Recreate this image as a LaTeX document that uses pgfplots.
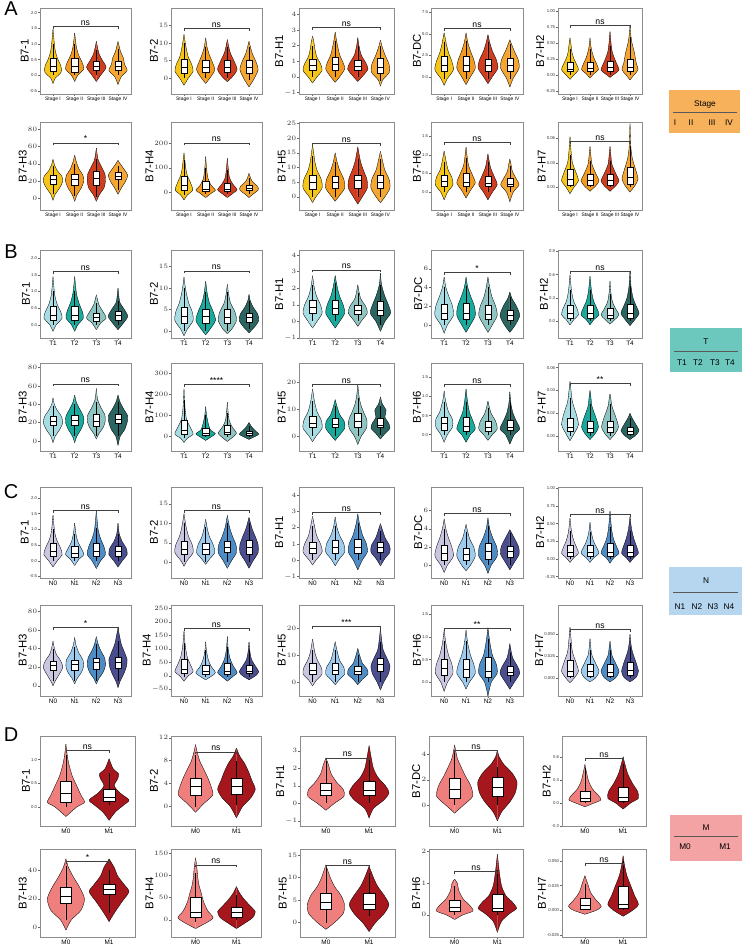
\documentclass[border=0pt]{standalone}
\usepackage{pgfplots}
\pgfplotsset{compat=1.18}
\usepgfplotslibrary{statistics}
\usepackage{fontspec}
\setmainfont{Liberation Sans}

\newlength\pu \setlength\pu{0.75pt}

\definecolor{sI}{HTML}{F5C518}
\definecolor{sII}{HTML}{F29B1F}
\definecolor{sIII}{HTML}{CF3E1E}
\definecolor{sIV}{HTML}{F4A632}
\definecolor{tA}{HTML}{A8DCE3}
\definecolor{tB}{HTML}{1AA99D}
\definecolor{tC}{HTML}{8EC5C2}
\definecolor{tD}{HTML}{2B6562}
\definecolor{nA}{HTML}{C9C6E2}
\definecolor{nB}{HTML}{9CCBEE}
\definecolor{nC}{HTML}{4E8CC5}
\definecolor{nD}{HTML}{4B4E8E}
\definecolor{mA}{HTML}{EF7F7C}
\definecolor{mB}{HTML}{A5161D}
\definecolor{legA}{HTML}{F6B15A}
\definecolor{legB}{HTML}{6CC8BD}
\definecolor{legC}{HTML}{B6D6EF}
\definecolor{legD}{HTML}{F3A3A4}

\pgfplotsset{
  vp/.style={scale only axis, anchor=north west, clip=false,
    xmin=0.4, xmax=4.6, xtick={1,2,3,4}, scaled ticks=false,
    axis line style={black!45, line width=0.6pt},
    tick align=outside, tick pos=left, major tick length=1.3pt,
    major tick style={black!60, line width=0.3pt},
    yticklabel style={font=\fontsize{3.2}{3.6}\selectfont, inner sep=0.7pt, text=black!80},
    xticklabel style={font=\fontsize{4.8}{5.2}\selectfont, inner sep=1pt},
    ylabel style={font=\fontsize{8.5}{9}\selectfont, inner sep=1pt},
    ylabel shift=-1pt},
  stA/.style={vp, xticklabels={Stage I,Stage II,Stage III,Stage IV},
    xticklabel style={font=\fontsize{3.7}{4}\selectfont}},
  stB/.style={vp, xticklabels={T1,T2,T3,T4}},
  stC/.style={vp, xticklabels={N0,N1,N2,N3}},
  stD/.style={vp, xmin=0.4, xmax=2.6, xtick={1,2}, xticklabels={M0,M1}},
  pos/.style n args={4}{at={(#1\pu,#2\pu)}, width=#3\pu, height=#4\pu},
}

\newcommand\bx{0.28}
% violin: x, colour, profile (y halfwidth), lower whisker, q1, median, q3, upper whisker
\newcommand\vio[8]{%
  \addplot[fill=#2, draw=black, line width=0.25pt, smooth, tension=0.45] table[header=false, row sep=\\, x expr=#1+\thisrowno{1}, y index=0] {#3};
  \addplot[fill=#2, draw=black, line width=0.25pt, smooth, tension=0.45] table[header=false, row sep=\\, x expr=#1-\thisrowno{1}, y index=0] {#3};
  \addplot[draw=black, fill=white, line width=0.3pt, boxplot prepared={draw direction=y, draw position=#1, lower whisker=#4, lower quartile=#5, median=#6, upper quartile=#7, upper whisker=#8, box extend=\bx, whisker extend=0}] coordinates {};
}
% bracket: x1, x2, xmid, y, label
\newcommand\brk[5]{%
  \draw[black!75, line width=0.5pt] ([yshift=-1.8pt]axis cs:#1,#4) -- (axis cs:#1,#4) -- (axis cs:#2,#4) -- ([yshift=-1.8pt]axis cs:#2,#4);
  \node[font=\fontsize{6.5}{7}\selectfont, anchor=south, inner sep=0.6pt] at (axis cs:#3,#4) {#5};
}

\begin{document}
\begin{tikzpicture}
\path[use as bounding box] (0,0) rectangle (744\pu,948\pu);

%%%%%%%%%%%%%%%% Panel A, row 1
\begin{axis}[stA, pos={40}{940}{91}{86}, ymin=-0.6, ymax=2.15, ytick={-0.5,0,0.5,1,1.5,2}, yticklabels={-0.5,0.0,0.5,1.0,1.5,2.0}, ylabel={B7-1}]
\vio{1}{sI}{-0.27 0\\-0.1 0.1\\0.1 0.38\\0.3 0.36\\0.55 0.2\\0.8 0.1\\1.1 0.05\\1.47 0\\}{0}{0.12}{0.28}{0.55}{1.0}
\vio{2}{sII}{-0.2 0\\0 0.15\\0.2 0.42\\0.4 0.35\\0.65 0.18\\0.9 0.08\\1.35 0\\}{0}{0.1}{0.3}{0.55}{1.0}
\vio{3}{sIII}{-0.2 0\\0 0.2\\0.25 0.45\\0.45 0.3\\0.7 0.12\\1.08 0\\}{0}{0.15}{0.28}{0.45}{0.8}
\vio{4}{sIV}{-0.3 0\\-0.05 0.15\\0.15 0.42\\0.35 0.3\\0.55 0.25\\0.75 0.12\\1.08 0\\}{0}{0.15}{0.3}{0.45}{0.85}
\brk{1}{4}{2.5}{1.55}{ns}
\end{axis}
\begin{axis}[stA, pos={171}{940}{91}{86}, ymin=-4.5, ymax=20, ytick={0,5,10,15}, ylabel={B7-2}]
\vio{1}{sI}{-2 0\\0 0.2\\2 0.42\\4 0.35\\6 0.2\\8 0.12\\10 0.06\\12.5 0\\}{0}{1.5}{3.2}{5.5}{10}
\vio{2}{sII}{-1.5 0\\0.5 0.25\\2.5 0.42\\5 0.28\\7 0.15\\9 0.06\\11.5 0\\}{0}{1.8}{3}{5}{9}
\vio{3}{sIII}{-1 0\\0.5 0.25\\2.5 0.45\\5 0.3\\7.5 0.12\\11 0\\}{0}{1.8}{3.2}{5}{9}
\vio{4}{sIV}{-2.5 0\\0 0.25\\2.5 0.42\\5 0.3\\7 0.15\\10.5 0\\}{-0.5}{1.5}{3}{5}{9}
\brk{1}{4}{2.5}{14.2}{ns}
\end{axis}
\begin{axis}[stA, pos={299}{940}{95}{86}, ymin=-1.1, ymax=4.4, ytick={-1,0,1,2,3,4}, ylabel={B7-H1}]
\vio{1}{sI}{-0.4 0\\0 0.2\\0.4 0.42\\0.8 0.36\\1.3 0.18\\1.8 0.1\\2.2 0.06\\2.6 0\\}{0}{0.45}{0.72}{1.1}{2}
\vio{2}{sII}{-0.35 0\\0 0.2\\0.5 0.42\\0.9 0.35\\1.4 0.2\\2 0.1\\2.4 0.05\\2.85 0\\}{0}{0.45}{0.8}{1.25}{2.3}
\vio{3}{sIII}{-0.3 0\\0.1 0.25\\0.5 0.45\\0.9 0.35\\1.4 0.15\\2 0.05\\2.5 0\\}{0}{0.45}{0.7}{1.05}{2}
\vio{4}{sIV}{-0.6 0\\-0.2 0.1\\0.3 0.4\\0.8 0.38\\1.4 0.2\\1.9 0.08\\2.35 0\\}{-0.3}{0.25}{0.6}{1.2}{2}
\brk{1}{4}{2.5}{3.14}{ns}
\end{axis}
\begin{axis}[stA, pos={431}{940}{92}{86}, ymin=-2, ymax=8, ytick={0,2.5,5,7.5}, yticklabels={0.0,2.5,5.0,7.5}, ylabel={B7-DC}]
\vio{1}{sI}{-1 0\\-0.2 0.15\\0.8 0.42\\1.8 0.35\\2.8 0.2\\3.8 0.1\\4.5 0.05\\5.1 0\\}{-0.3}{0.6}{1.3}{2.4}{4}
\vio{2}{sII}{-0.9 0\\0 0.2\\1 0.42\\2 0.35\\3 0.2\\4 0.08\\5.1 0\\}{-0.3}{0.6}{1.3}{2.4}{4.2}
\vio{3}{sIII}{-0.8 0\\0 0.2\\1 0.45\\2 0.38\\3 0.2\\4 0.08\\4.9 0\\}{-0.2}{0.7}{1.3}{2.0}{4}
\vio{4}{sIV}{-1.2 0\\-0.2 0.15\\1 0.42\\2 0.38\\3 0.2\\4.3 0\\}{-0.3}{0.7}{1.4}{2.2}{3.8}
\brk{1}{4}{2.5}{5.6}{ns}
\end{axis}
\begin{axis}[stA, pos={558}{940}{84}{86}, ymin=-0.3, ymax=1.05, ytick={-0.25,0,0.25,0.5,0.75,1}, yticklabels={-0.25,0.00,0.25,0.50,0.75,1.00}, ylabel={B7-H2}]
\vio{1}{sI}{-0.07 0\\0 0.2\\0.08 0.42\\0.15 0.35\\0.25 0.2\\0.35 0.1\\0.5 0.04\\0.58 0\\}{0}{0.05}{0.09}{0.2}{0.4}
\vio{2}{sII}{-0.05 0\\0.02 0.2\\0.08 0.42\\0.15 0.36\\0.28 0.18\\0.42 0.06\\0.58 0\\}{0}{0.05}{0.1}{0.2}{0.4}
\vio{3}{sIII}{-0.04 0\\0.02 0.25\\0.08 0.45\\0.2 0.3\\0.35 0.12\\0.5 0.05\\0.68 0\\}{0}{0.05}{0.12}{0.22}{0.45}
\vio{4}{sIV}{-0.08 0\\0 0.2\\0.08 0.4\\0.2 0.3\\0.35 0.22\\0.5 0.1\\0.65 0.03\\0.78 0\\}{0}{0.05}{0.12}{0.25}{0.6}
\brk{1}{4}{2.5}{0.77}{ns}
\end{axis}

%%%%%%%%%%%%%%%% Panel A, row 2
\begin{axis}[stA, pos={40}{826}{91}{88}, ymin=-13, ymax=88, ytick={0,20,40,60,80}, ylabel={B7-H3}]
\vio{1}{sI}{-2 0\\5 0.1\\12 0.3\\20 0.45\\26 0.4\\32 0.2\\38 0.08\\45 0\\}{5}{17}{22}{27}{38}
\vio{2}{sII}{-3 0\\5 0.12\\12 0.3\\20 0.42\\27 0.38\\34 0.2\\42 0.08\\50 0\\}{3}{16}{22}{28}{40}
\vio{3}{sIII}{-3 0\\5 0.15\\12 0.35\\20 0.42\\28 0.4\\36 0.25\\45 0.08\\58 0\\}{2}{15}{23}{31}{45}
\vio{4}{sIV}{5 0\\12 0.15\\20 0.35\\27 0.45\\33 0.3\\40 0.1\\44 0\\}{10}{22}{26}{30}{38}
\brk{1}{4}{2.5}{64}{*}
\end{axis}
\begin{axis}[stA, pos={171}{826}{91}{88}, ymin=-70, ymax=285, ytick={0,100,200}, ylabel={B7-H4}]
\vio{1}{sI}{-30 0\\-10 0.15\\10 0.4\\40 0.3\\70 0.15\\100 0.08\\130 0.04\\160 0\\}{-10}{10}{30}{65}{130}
\vio{2}{sII}{-20 0\\0 0.3\\10 0.45\\30 0.25\\60 0.1\\100 0.04\\145 0\\}{-5}{5}{15}{45}{100}
\vio{3}{sIII}{-20 0\\0 0.3\\12 0.45\\35 0.25\\60 0.1\\100 0.04\\138 0\\}{-5}{5}{15}{40}{90}
\vio{4}{sIV}{-20 0\\-5 0.2\\10 0.42\\25 0.4\\45 0.15\\65 0.05\\78 0\\}{-5}{8}{18}{30}{60}
\brk{1}{4}{2.5}{200}{ns}
\end{axis}
\begin{axis}[stA, pos={299}{826}{95}{88}, ymin=-4.5, ymax=25.5, ytick={0,5,10,15,20,25}, ylabel={B7-H5}]
\vio{1}{sI}{-2 0\\0 0.15\\3 0.42\\6 0.38\\9 0.2\\12 0.1\\15 0.05\\17.5 0\\}{0}{2.5}{5}{7.5}{14}
\vio{2}{sII}{-1.5 0\\0.5 0.2\\3 0.42\\6 0.38\\9 0.2\\12 0.08\\15 0\\}{0}{3}{5}{7}{12}
\vio{3}{sIII}{-2.5 0\\0 0.2\\3 0.42\\6 0.4\\9 0.25\\12 0.12\\17 0\\}{0}{3}{5.5}{7.5}{13}
\vio{4}{sIV}{-2 0\\0 0.2\\3 0.42\\6 0.38\\9 0.2\\12 0.1\\15.5 0\\}{0}{3}{5}{7.5}{13}
\brk{1}{4}{2.5}{18.2}{ns}
\end{axis}
\begin{axis}[stA, pos={431}{826}{92}{88}, ymin=-0.47, ymax=1.87, ytick={0,0.5,1,1.5}, yticklabels={0.0,0.5,1.0,1.5}, ylabel={B7-H6}]
\vio{1}{sI}{-0.2 0\\0 0.15\\0.2 0.4\\0.4 0.35\\0.6 0.18\\0.85 0.08\\1.1 0\\}{0}{0.15}{0.3}{0.45}{0.8}
\vio{2}{sII}{-0.15 0\\0.05 0.2\\0.25 0.42\\0.45 0.3\\0.7 0.12\\0.95 0.05\\1.2 0\\}{0}{0.15}{0.28}{0.5}{0.9}
\vio{3}{sIII}{-0.2 0\\0 0.2\\0.2 0.42\\0.4 0.3\\0.65 0.12\\0.85 0.05\\1.02 0\\}{0}{0.15}{0.25}{0.42}{0.8}
\vio{4}{sIV}{-0.25 0\\0 0.15\\0.2 0.42\\0.35 0.3\\0.55 0.12\\0.75 0.05\\0.88 0\\}{0}{0.15}{0.22}{0.38}{0.7}
\brk{1}{4}{2.5}{1.33}{ns}
\end{axis}
\begin{axis}[stA, pos={558}{826}{84}{88}, ymin=-0.028, ymax=0.08, ytick={0,0.03,0.06}, yticklabels={0.00,0.03,0.06}, ylabel={B7-H7}]
\vio{1}{sI}{-0.008 0\\0 0.2\\0.008 0.42\\0.018 0.3\\0.03 0.12\\0.045 0.05\\0.062 0\\}{0}{0.003}{0.01}{0.022}{0.04}
\vio{2}{sII}{-0.005 0\\0.002 0.3\\0.008 0.45\\0.016 0.3\\0.028 0.1\\0.04 0.04\\0.05 0\\}{0}{0.003}{0.008}{0.016}{0.032}
\vio{3}{sIII}{-0.005 0\\0.002 0.3\\0.008 0.45\\0.016 0.3\\0.028 0.1\\0.04 0.04\\0.05 0\\}{0}{0.003}{0.008}{0.016}{0.032}
\vio{4}{sIV}{-0.006 0\\0.002 0.25\\0.01 0.4\\0.02 0.3\\0.035 0.12\\0.05 0.04\\0.078 0\\}{0}{0.004}{0.012}{0.025}{0.05}
\brk{1}{4}{2.5}{0.056}{ns}
\end{axis}

%%%%%%%%%%%%%%%% Panel B, row 1
\begin{axis}[stB, pos={40}{698}{91}{88}, ymin=-0.4, ymax=2.25, ytick={0,0.5,1,1.5,2}, yticklabels={0.0,0.5,1.0,1.5,2.0}, ylabel={B7-1}]
\vio{1}{tA}{-0.2 0\\0 0.15\\0.2 0.42\\0.4 0.35\\0.6 0.2\\0.9 0.08\\1.45 0\\}{0}{0.15}{0.3}{0.55}{1.0}
\vio{2}{tB}{-0.2 0\\0 0.15\\0.2 0.4\\0.4 0.35\\0.65 0.2\\0.95 0.08\\1.45 0\\}{0}{0.15}{0.3}{0.55}{1.0}
\vio{3}{tC}{-0.15 0\\0.05 0.2\\0.2 0.45\\0.4 0.3\\0.6 0.12\\0.9 0\\}{0}{0.12}{0.22}{0.35}{0.65}
\vio{4}{tD}{-0.15 0\\0.05 0.25\\0.25 0.45\\0.45 0.3\\0.65 0.1\\0.8 0.05\\1.1 0\\}{0}{0.15}{0.28}{0.4}{0.7}
\brk{1}{4}{2.5}{1.6}{ns}
\end{axis}
\begin{axis}[stB, pos={171}{698}{91}{88}, ymin=-1.5, ymax=18.7, ytick={0,5,10,15}, ylabel={B7-2}]
\vio{1}{tA}{-1 0\\0.5 0.15\\2.5 0.42\\4.5 0.38\\6.5 0.22\\8.5 0.12\\10.5 0.05\\12.5 0\\}{0}{2}{3.5}{5.5}{10}
\vio{2}{tB}{-0.8 0\\0.5 0.2\\2.5 0.45\\4.5 0.35\\6.5 0.18\\8.5 0.08\\11.5 0\\}{0}{2}{3.5}{5}{9}
\vio{3}{tC}{-0.5 0\\0.5 0.2\\2.5 0.42\\4.5 0.35\\6.5 0.15\\8.5 0.06\\10.8 0\\}{0}{2}{3.3}{5.2}{9}
\vio{4}{tD}{-0.3 0\\1 0.25\\2.5 0.45\\4 0.4\\5.5 0.2\\7 0.06\\8.5 0\\}{0.5}{2.2}{3.2}{4.2}{7}
\brk{1}{4}{2.5}{13.9}{ns}
\end{axis}
\begin{axis}[stB, pos={299}{698}{95}{88}, ymin=-1.0, ymax=4.3, ytick={-1,0,1,2,3,4}, ylabel={B7-H1}]
\vio{1}{tA}{-0.4 0\\0 0.2\\0.5 0.42\\1 0.35\\1.5 0.18\\2 0.08\\2.75 0\\}{0}{0.5}{0.85}{1.25}{2.2}
\vio{2}{tB}{-0.4 0\\0 0.2\\0.5 0.42\\1 0.35\\1.5 0.2\\2 0.1\\2.75 0\\}{0}{0.45}{0.8}{1.3}{2.3}
\vio{3}{tC}{-0.3 0\\0.1 0.2\\0.5 0.42\\0.9 0.35\\1.4 0.12\\2.2 0\\}{0}{0.45}{0.7}{1.0}{1.7}
\vio{4}{tD}{-0.6 0\\0 0.2\\0.5 0.45\\1 0.35\\1.5 0.2\\2.2 0.05\\2.9 0\\}{-0.2}{0.4}{0.7}{1.2}{2.2}
\brk{1}{4}{2.5}{3.1}{ns}
\end{axis}
\begin{axis}[stB, pos={431}{698}{92}{88}, ymin=-1.4, ymax=8, ytick={0,2,4,6}, ylabel={B7-DC}]
\vio{1}{tA}{-0.9 0\\0 0.15\\1 0.42\\2 0.38\\3 0.22\\4 0.08\\5.1 0\\}{0}{0.6}{1.3}{2.2}{4}
\vio{2}{tB}{-0.8 0\\0 0.2\\1 0.42\\2 0.38\\3 0.22\\4 0.08\\5.1 0\\}{0}{0.6}{1.3}{2.3}{4.2}
\vio{3}{tC}{-0.8 0\\0 0.2\\1 0.42\\2 0.35\\3 0.18\\4 0.08\\5.1 0\\}{0}{0.6}{1.1}{2.1}{4}
\vio{4}{tD}{-0.8 0\\0 0.25\\1 0.45\\2 0.3\\2.8 0.1\\3.5 0\\}{0}{0.5}{1.0}{1.6}{3}
\brk{1}{4}{2.5}{5.6}{*}
\end{axis}
\begin{axis}[stB, pos={558}{698}{84}{88}, ymin=-0.22, ymax=0.92, ytick={0,0.3,0.6,0.9}, yticklabels={0.0,0.3,0.6,0.9}, ylabel={B7-H2}]
\vio{1}{tA}{-0.05 0\\0.02 0.2\\0.08 0.42\\0.16 0.35\\0.26 0.18\\0.38 0.08\\0.6 0\\}{0}{0.04}{0.1}{0.2}{0.4}
\vio{2}{tB}{-0.05 0\\0.02 0.2\\0.08 0.45\\0.16 0.35\\0.26 0.18\\0.38 0.08\\0.58 0\\}{0}{0.04}{0.1}{0.2}{0.4}
\vio{3}{tC}{-0.04 0\\0.02 0.25\\0.08 0.45\\0.15 0.3\\0.25 0.12\\0.38 0.04\\0.52 0\\}{0}{0.04}{0.08}{0.16}{0.35}
\vio{4}{tD}{-0.06 0\\0.02 0.25\\0.1 0.45\\0.2 0.3\\0.3 0.15\\0.45 0.05\\0.65 0\\}{0}{0.04}{0.1}{0.22}{0.45}
\brk{1}{4}{2.5}{0.64}{ns}
\end{axis}

%%%%%%%%%%%%%%%% Panel B, row 2
\begin{axis}[stB, pos={40}{585}{91}{88}, ymin=-11, ymax=85, ytick={0,20,40,60,80}, ylabel={B7-H3}]
\vio{1}{tA}{-2 0\\5 0.1\\12 0.3\\20 0.45\\27 0.38\\34 0.18\\40 0.06\\47 0\\}{5}{17}{22}{27}{38}
\vio{2}{tB}{-2 0\\5 0.1\\12 0.28\\20 0.42\\27 0.4\\34 0.25\\42 0.08\\50 0\\}{5}{17}{23}{28}{40}
\vio{3}{tC}{2 0\\8 0.12\\14 0.3\\20 0.4\\28 0.4\\36 0.22\\45 0.06\\57 0\\}{5}{16}{22}{29}{42}
\vio{4}{tD}{-5 0\\5 0.1\\12 0.3\\20 0.42\\27 0.45\\34 0.28\\42 0.1\\50 0\\}{5}{19}{24}{29}{42}
\brk{1}{4}{2.5}{62}{ns}
\end{axis}
\begin{axis}[stB, pos={171}{585}{91}{88}, ymin=-70, ymax=347, ytick={0,100,200,300}, ylabel={B7-H4}]
\vio{1}{tA}{-30 0\\-10 0.15\\10 0.42\\40 0.3\\80 0.12\\130 0.05\\180 0.02\\225 0\\}{-10}{10}{30}{75}{170}
\vio{2}{tB}{-20 0\\0 0.3\\12 0.45\\30 0.22\\60 0.12\\100 0.04\\140 0\\}{-5}{5}{15}{40}{100}
\vio{3}{tC}{-25 0\\0 0.3\\15 0.42\\40 0.25\\70 0.1\\110 0.04\\160 0\\}{-5}{8}{20}{50}{110}
\vio{4}{tD}{-15 0\\0 0.3\\10 0.45\\25 0.3\\45 0.12\\65 0\\}{-5}{3}{12}{22}{50}
\brk{1}{4}{2.5}{245}{****}
\end{axis}
\begin{axis}[stB, pos={299}{585}{95}{88}, ymin=-5.4, ymax=27, ytick={0,10,20}, ylabel={B7-H5}]
\vio{1}{tA}{-2 0\\0 0.15\\3 0.42\\6 0.38\\9 0.2\\13 0.08\\17.5 0\\}{0}{3.5}{5}{7.5}{13}
\vio{2}{tB}{-1.5 0\\0.5 0.2\\3 0.42\\5.5 0.4\\8 0.2\\11 0.08\\13.5 0\\}{0}{3.5}{4.5}{6.5}{11}
\vio{3}{tC}{-3 0\\0 0.15\\3 0.38\\6 0.4\\9 0.25\\12 0.12\\15 0.05\\19 0\\}{0}{3.5}{5.5}{8.5}{14}
\vio{4}{tD}{-1 0\\1 0.2\\3 0.42\\5 0.35\\7 0.2\\9.5 0.25\\12 0.08\\14.5 0\\}{0.5}{3.5}{4.2}{6.5}{11}
\brk{1}{4}{2.5}{19.2}{ns}
\end{axis}
\begin{axis}[stB, pos={431}{585}{92}{88}, ymin=-0.43, ymax=1.88, ytick={0,0.5,1,1.5}, yticklabels={0.0,0.5,1.0,1.5}, ylabel={B7-H6}]
\vio{1}{tA}{-0.2 0\\0 0.15\\0.2 0.38\\0.4 0.38\\0.6 0.2\\0.9 0.06\\1.15 0\\}{0}{0.12}{0.3}{0.45}{0.85}
\vio{2}{tB}{-0.2 0\\0 0.2\\0.15 0.42\\0.35 0.32\\0.6 0.15\\0.9 0.06\\1.2 0\\}{0}{0.1}{0.22}{0.45}{0.85}
\vio{3}{tC}{-0.15 0\\0 0.2\\0.15 0.42\\0.35 0.35\\0.55 0.15\\0.75 0.05\\0.88 0\\}{0}{0.1}{0.2}{0.35}{0.7}
\vio{4}{tD}{-0.25 0\\0 0.2\\0.15 0.45\\0.35 0.3\\0.55 0.15\\0.8 0.05\\1.12 0\\}{0}{0.12}{0.2}{0.38}{0.85}
\brk{1}{4}{2.5}{1.32}{ns}
\end{axis}
\begin{axis}[stB, pos={558}{585}{84}{88}, ymin=-0.013, ymax=0.064, ytick={0,0.02,0.04,0.06}, yticklabels={0.00,0.02,0.04,0.06}, ylabel={B7-H7}]
\vio{1}{tA}{-0.004 0\\0.002 0.2\\0.01 0.42\\0.02 0.3\\0.03 0.12\\0.04 0.05\\0.048 0\\}{0}{0.004}{0.008}{0.016}{0.033}
\vio{2}{tB}{-0.003 0\\0.002 0.25\\0.008 0.42\\0.016 0.3\\0.026 0.1\\0.035 0.04\\0.04 0\\}{0}{0.003}{0.007}{0.013}{0.028}
\vio{3}{tC}{-0.003 0\\0.002 0.25\\0.008 0.42\\0.016 0.3\\0.026 0.1\\0.033 0.04\\0.037 0\\}{0}{0.003}{0.008}{0.013}{0.028}
\vio{4}{tD}{-0.003 0\\0.001 0.3\\0.005 0.45\\0.01 0.3\\0.016 0.1\\0.02 0\\}{0}{0.002}{0.004}{0.008}{0.016}
\brk{1}{4}{2.5}{0.046}{**}
\end{axis}

%%%%%%%%%%%%%%%% Panel C, row 1
\begin{axis}[stC, pos={40}{461}{91}{91}, ymin=-0.55, ymax=2.35, ytick={-0.5,0,0.5,1,1.5,2}, yticklabels={-0.5,0.0,0.5,1.0,1.5,2.0}, ylabel={B7-1}]
\vio{1}{nA}{-0.2 0\\0 0.2\\0.2 0.42\\0.4 0.35\\0.65 0.18\\0.9 0.08\\1.45 0\\}{0}{0.15}{0.3}{0.55}{1.0}
\vio{2}{nB}{-0.15 0\\0.05 0.2\\0.2 0.42\\0.4 0.3\\0.6 0.15\\0.85 0.06\\1.2 0\\}{0}{0.12}{0.25}{0.45}{0.85}
\vio{3}{nC}{-0.25 0\\0 0.2\\0.2 0.42\\0.45 0.35\\0.7 0.2\\1.0 0.08\\1.6 0\\}{0}{0.15}{0.3}{0.55}{1.05}
\vio{4}{nD}{-0.2 0\\0 0.2\\0.2 0.42\\0.4 0.38\\0.6 0.2\\0.85 0.06\\1.2 0\\}{0}{0.15}{0.3}{0.45}{0.85}
\brk{1}{4}{2.5}{1.6}{ns}
\end{axis}
\begin{axis}[stC, pos={171}{461}{91}{91}, ymin=-4, ymax=19.3, ytick={0,5,10,15}, ylabel={B7-2}]
\vio{1}{nA}{-1 0\\0.5 0.15\\2.5 0.42\\4.5 0.38\\6.5 0.22\\9 0.1\\12.5 0\\}{0}{2}{3.5}{5.5}{10}
\vio{2}{nB}{-0.5 0\\1 0.2\\2.5 0.42\\4.5 0.35\\6.5 0.18\\8.5 0.08\\11 0\\}{0}{2.2}{3.5}{5}{9}
\vio{3}{nC}{-1.5 0\\0.5 0.2\\2.5 0.42\\4.5 0.4\\6.5 0.25\\9 0.1\\12 0\\}{0}{2.5}{4}{5.5}{10}
\vio{4}{nD}{-1.5 0\\0.5 0.2\\2.5 0.42\\4.5 0.42\\6.5 0.3\\8.5 0.15\\11.5 0\\}{0}{2.2}{3.8}{5.8}{10}
\brk{1}{4}{2.5}{13.2}{ns}
\end{axis}
\begin{axis}[stC, pos={299}{461}{95}{91}, ymin=-1.1, ymax=4.5, ytick={-1,0,1,2,3,4}, ylabel={B7-H1}]
\vio{1}{nA}{-0.3 0\\0 0.15\\0.5 0.42\\1 0.35\\1.5 0.18\\2 0.1\\2.7 0\\}{0}{0.45}{0.75}{1.1}{2.1}
\vio{2}{nB}{-0.35 0\\0.1 0.2\\0.5 0.42\\1 0.38\\1.5 0.2\\2 0.08\\2.65 0\\}{0}{0.4}{0.8}{1.2}{2.1}
\vio{3}{nC}{-0.6 0\\0 0.2\\0.5 0.42\\1 0.38\\1.5 0.22\\2.2 0.08\\2.85 0\\}{0}{0.4}{0.8}{1.3}{2.3}
\vio{4}{nD}{-0.35 0\\0.1 0.2\\0.5 0.42\\0.9 0.4\\1.4 0.2\\2.25 0\\}{0}{0.5}{0.8}{1.1}{1.8}
\brk{1}{4}{2.5}{2.95}{ns}
\end{axis}
\begin{axis}[stC, pos={431}{461}{92}{91}, ymin=-1.4, ymax=8.6, ytick={0,2,4,6}, ylabel={B7-DC}]
\vio{1}{nA}{-0.8 0\\0 0.15\\1 0.42\\2 0.35\\3 0.2\\4 0.08\\5.1 0\\}{0}{0.6}{1.3}{2.2}{4}
\vio{2}{nB}{-0.6 0\\0 0.2\\1 0.42\\2 0.35\\3 0.15\\4.5 0\\}{0}{0.6}{1.2}{1.9}{3.7}
\vio{3}{nC}{-0.9 0\\0 0.15\\1 0.42\\2 0.4\\3 0.22\\4 0.08\\5.2 0\\}{0}{0.7}{1.5}{2.4}{4.3}
\vio{4}{nD}{-0.5 0\\0.3 0.2\\1.2 0.42\\2 0.4\\3 0.2\\3.9 0\\}{0}{0.9}{1.5}{2.1}{3.5}
\brk{1}{4}{2.5}{5.7}{ns}
\end{axis}
\begin{axis}[stC, pos={558}{461}{84}{91}, ymin=-0.27, ymax=1.02, ytick={-0.25,0,0.25,0.5,0.75,1}, yticklabels={-0.25,0.00,0.25,0.50,0.75,1.00}, ylabel={B7-H2}]
\vio{1}{nA}{-0.05 0\\0.02 0.2\\0.08 0.42\\0.15 0.35\\0.25 0.2\\0.38 0.08\\0.58 0\\}{0}{0.04}{0.1}{0.2}{0.4}
\vio{2}{nB}{-0.05 0\\0.02 0.2\\0.08 0.45\\0.15 0.35\\0.25 0.18\\0.38 0.06\\0.52 0\\}{0}{0.04}{0.1}{0.2}{0.38}
\vio{3}{nC}{-0.06 0\\0.02 0.2\\0.08 0.45\\0.16 0.35\\0.28 0.18\\0.42 0.08\\0.68 0\\}{0}{0.04}{0.09}{0.22}{0.45}
\vio{4}{nD}{-0.05 0\\0.02 0.2\\0.08 0.42\\0.16 0.35\\0.28 0.2\\0.42 0.08\\0.6 0\\}{0}{0.04}{0.1}{0.2}{0.4}
\brk{1}{4}{2.5}{0.63}{ns}
\end{axis}

%%%%%%%%%%%%%%%% Panel C, row 2
\begin{axis}[stC, pos={40}{343}{91}{91}, ymin=-11, ymax=87, ytick={0,20,40,60,80}, ylabel={B7-H3}]
\vio{1}{nA}{0 0\\5 0.1\\12 0.28\\20 0.45\\27 0.35\\34 0.15\\42 0.05\\48 0\\}{5}{17}{22}{27}{40}
\vio{2}{nB}{2 0\\8 0.12\\14 0.3\\20 0.4\\28 0.38\\35 0.2\\44 0.06\\52 0\\}{5}{17}{23}{28}{42}
\vio{3}{nC}{2 0\\8 0.12\\14 0.3\\22 0.42\\30 0.38\\38 0.2\\45 0.08\\53 0\\}{5}{18}{25}{30}{45}
\vio{4}{nD}{-2 0\\5 0.1\\12 0.25\\20 0.38\\28 0.42\\36 0.3\\45 0.15\\55 0.06\\62 0\\}{5}{19}{25}{31}{48}
\brk{1}{4}{2.5}{63}{*}
\end{axis}
\begin{axis}[stC, pos={171}{343}{91}{91}, ymin=-75, ymax=262, ytick={-50,0,50,100,150,200,250}, ylabel={B7-H4}]
\vio{1}{nA}{-20 0\\0 0.2\\15 0.42\\40 0.3\\70 0.15\\110 0.06\\165 0\\}{-5}{8}{25}{60}{120}
\vio{2}{nB}{-15 0\\0 0.3\\12 0.45\\35 0.25\\60 0.12\\90 0.04\\125 0\\}{-5}{5}{15}{40}{95}
\vio{3}{nC}{-20 0\\0 0.3\\12 0.45\\35 0.28\\65 0.12\\100 0.04\\145 0\\}{-5}{5}{18}{45}{105}
\vio{4}{nD}{-15 0\\0 0.3\\15 0.45\\35 0.3\\60 0.12\\90 0.04\\125 0\\}{-5}{8}{18}{40}{95}
\brk{1}{4}{2.5}{175}{ns}
\end{axis}
\begin{axis}[stC, pos={299}{343}{95}{91}, ymin=-5.2, ymax=28.7, ytick={0,10,20}, ylabel={B7-H5}]
\vio{1}{nA}{-1.5 0\\0.5 0.15\\3 0.42\\5.5 0.38\\8 0.22\\11 0.1\\16 0\\}{0}{3}{4.5}{7}{12}
\vio{2}{nB}{-1 0\\1 0.2\\3 0.42\\5.5 0.38\\8 0.2\\11 0.1\\15 0\\}{0}{3}{4.5}{7}{12}
\vio{3}{nC}{-1 0\\1 0.2\\3 0.45\\5 0.4\\7 0.2\\10 0.08\\12.5 0\\}{0}{3}{4.2}{6}{10}
\vio{4}{nD}{-3 0\\0 0.15\\3 0.35\\6 0.42\\9 0.28\\12 0.12\\16 0.05\\20 0\\}{0}{4}{6.5}{9}{15}
\brk{1}{4}{2.5}{20.7}{***}
\end{axis}
\begin{axis}[stC, pos={431}{343}{92}{91}, ymin=-0.3, ymax=1.7, ytick={0,0.5,1,1.5}, yticklabels={0.0,0.5,1.0,1.5}, ylabel={B7-H6}]
\vio{1}{nA}{-0.2 0\\0 0.15\\0.2 0.4\\0.4 0.35\\0.6 0.2\\0.85 0.08\\1.15 0\\}{0}{0.15}{0.3}{0.5}{0.9}
\vio{2}{nB}{-0.15 0\\0 0.15\\0.2 0.42\\0.4 0.35\\0.6 0.2\\0.85 0.08\\1.15 0\\}{0}{0.12}{0.28}{0.5}{0.9}
\vio{3}{nC}{-0.3 0\\0 0.15\\0.2 0.42\\0.4 0.38\\0.6 0.2\\0.9 0.08\\1.2 0\\}{0}{0.12}{0.25}{0.55}{0.95}
\vio{4}{nD}{-0.15 0\\0 0.2\\0.2 0.45\\0.35 0.35\\0.55 0.12\\0.85 0\\}{0}{0.15}{0.22}{0.35}{0.65}
\brk{1}{4}{2.5}{1.18}{**}
\end{axis}
\begin{axis}[stC, pos={558}{343}{84}{91}, ymin=-0.02, ymax=0.083, ytick={0,0.025,0.05}, yticklabels={0.000,0.025,0.050}, ylabel={B7-H7}]
\vio{1}{nA}{-0.005 0\\0 0.2\\0.008 0.42\\0.018 0.3\\0.03 0.12\\0.045 0.05\\0.058 0\\}{0}{0.002}{0.008}{0.02}{0.04}
\vio{2}{nB}{-0.004 0\\0.001 0.3\\0.008 0.45\\0.016 0.3\\0.026 0.1\\0.035 0.04\\0.045 0\\}{0}{0.002}{0.008}{0.016}{0.032}
\vio{3}{nC}{-0.004 0\\0.001 0.3\\0.008 0.45\\0.016 0.3\\0.026 0.1\\0.035 0.04\\0.042 0\\}{0}{0.002}{0.007}{0.016}{0.032}
\vio{4}{nD}{-0.004 0\\0.001 0.3\\0.008 0.42\\0.018 0.3\\0.03 0.12\\0.04 0.04\\0.05 0\\}{0}{0.003}{0.009}{0.018}{0.036}
\brk{1}{4}{2.5}{0.055}{ns}
\end{axis}

%%%%%%%%%%%%%%%% Panel D, row 1
\renewcommand\bx{0.26}
\begin{axis}[stD, pos={40}{212}{95}{90}, ymin=-0.4, ymax=1.5, ytick={0,0.5,1}, yticklabels={0.0,0.5,1.0}, ylabel={B7-1}]
\vio{1}{mA}{-0.2 0\\0 0.25\\0.1 0.43\\0.25 0.35\\0.45 0.25\\0.65 0.15\\0.9 0.07\\1.1 0.03\\1.33 0\\}{0}{0.1}{0.3}{0.55}{1.1}
\vio{2}{mB}{-0.28 0\\-0.1 0.15\\0.05 0.35\\0.15 0.46\\0.3 0.25\\0.45 0.12\\0.6 0.2\\0.7 0.22\\0.8 0.1\\0.9 0.05\\1.02 0\\}{0.05}{0.12}{0.2}{0.37}{0.72}
\brk{1}{2}{1.5}{1.19}{ns}
\end{axis}
\begin{axis}[stD, pos={171}{212}{90}{90}, ymin=-3.4, ymax=12.3, ytick={0,4,8,12}, ylabel={B7-2}]
\vio{1}{mA}{-1 0\\0.5 0.2\\2 0.42\\3.5 0.38\\5 0.3\\6.5 0.2\\8 0.1\\9.5 0.04\\10.8 0\\}{0}{2}{3.5}{5}{9}
\vio{2}{mB}{-2 0\\0 0.15\\1.5 0.35\\3 0.46\\4.5 0.38\\6 0.3\\7.5 0.2\\8.8 0.08\\10.2 0\\}{0.3}{2.2}{3.5}{4.9}{8}
\brk{1}{2}{1.5}{9.5}{ns}
\end{axis}
\begin{axis}[stD, pos={300}{212}{95}{90}, ymin=-1.3, ymax=3.85, ytick={-1,0,1,2,3}, ylabel={B7-H1}]
\vio{1}{mA}{-0.4 0\\0 0.2\\0.4 0.42\\0.8 0.4\\1.2 0.25\\1.7 0.12\\2.2 0.06\\2.6 0\\}{0}{0.45}{0.72}{1.15}{2.4}
\vio{2}{mB}{-0.85 0\\-0.3 0.1\\0.2 0.35\\0.6 0.46\\1.0 0.38\\1.5 0.2\\2.0 0.1\\2.6 0.05\\3.3 0\\}{0}{0.45}{0.72}{1.25}{2.5}
\brk{1}{2}{1.5}{2.6}{ns}
\end{axis}
\begin{axis}[stD, pos={429}{212}{94}{90}, ymin=-1.6, ymax=5.4, ytick={0,2,4}, ylabel={B7-DC}]
\vio{1}{mA}{-0.6 0\\0 0.2\\0.7 0.42\\1.5 0.38\\2.3 0.25\\3 0.15\\3.7 0.06\\4.7 0\\}{0}{0.6}{1.3}{2.1}{4.3}
\vio{2}{mB}{-1.2 0\\-0.5 0.1\\0.3 0.3\\1 0.42\\1.8 0.46\\2.5 0.35\\3.2 0.15\\3.8 0.04\\4.3 0\\}{0}{0.7}{1.4}{2.2}{3}
\brk{1}{2}{1.5}{4.25}{ns}
\end{axis}
\begin{axis}[stD, pos={562}{212}{84}{90}, ymin=-0.3, ymax=0.87, ytick={-0.3,0,0.3,0.6}, yticklabels={-0.3,0.0,0.3,0.6}, ylabel={B7-H2}]
\vio{1}{mA}{-0.05 0\\0 0.25\\0.04 0.42\\0.1 0.35\\0.18 0.2\\0.28 0.1\\0.4 0.04\\0.5 0\\}{0}{0.02}{0.06}{0.15}{0.45}
\vio{2}{mB}{-0.08 0\\0 0.2\\0.06 0.4\\0.15 0.38\\0.25 0.25\\0.38 0.12\\0.5 0.05\\0.6 0\\}{0}{0.02}{0.08}{0.2}{0.5}
\brk{1}{2}{1.5}{0.58}{ns}
\end{axis}

%%%%%%%%%%%%%%%% Panel D, row 2
\begin{axis}[stD, pos={40}{99}{95}{88}, ymin=-6.8, ymax=55, ytick={0,20,40}, ylabel={B7-H3}]
\vio{1}{mA}{-2 0\\5 0.12\\12 0.35\\20 0.43\\28 0.32\\35 0.18\\42 0.06\\48 0\\}{5}{17}{22}{28}{43}
\vio{2}{mB}{4 0\\10 0.12\\18 0.3\\25 0.46\\30 0.35\\36 0.2\\42 0.12\\48 0\\}{10}{23}{26.5}{30}{40}
\brk{1}{2}{1.5}{46}{*}
\end{axis}
\begin{axis}[stD, pos={171}{99}{90}{88}, ymin=-39, ymax=160, ytick={0,50,100,150}, ylabel={B7-H4}]
\vio{1}{mA}{-20 0\\-5 0.3\\5 0.43\\20 0.3\\40 0.2\\60 0.14\\80 0.08\\100 0.05\\120 0.03\\140 0\\}{-5}{5}{18}{50}{105}
\vio{2}{mB}{-20 0\\-5 0.25\\5 0.4\\18 0.46\\30 0.35\\45 0.2\\60 0.08\\75 0\\}{0}{5}{18}{28}{55}
\brk{1}{2}{1.5}{124}{ns}
\end{axis}
\begin{axis}[stD, pos={300}{99}{95}{88}, ymin=-3.2, ymax=16.3, ytick={0,5,10,15}, ylabel={B7-H5}]
\vio{1}{mA}{-1.5 0\\0 0.2\\2 0.4\\4 0.43\\6 0.35\\8 0.2\\10 0.1\\12.8 0\\}{0}{3}{4.5}{6.5}{12.5}
\vio{2}{mB}{-2 0\\0 0.15\\2 0.35\\4 0.46\\6 0.35\\8 0.2\\10 0.1\\12.5 0\\}{1.5}{3}{4}{6.5}{11}
\brk{1}{2}{1.5}{12.7}{ns}
\end{axis}
\begin{axis}[stD, pos={429}{99}{94}{88}, ymin=-0.7, ymax=2.07, ytick={0,1,2}, ylabel={B7-H6}]
\vio{1}{mA}{-0.15 0\\0 0.2\\0.12 0.43\\0.3 0.35\\0.5 0.2\\0.75 0.1\\1.0 0.06\\1.12 0\\}{0}{0.12}{0.25}{0.45}{0.9}
\vio{2}{mB}{-0.55 0\\-0.2 0.1\\0.05 0.3\\0.2 0.45\\0.4 0.35\\0.6 0.2\\0.9 0.1\\1.3 0.05\\1.9 0\\}{0}{0.12}{0.2}{0.65}{1.4}
\brk{1}{2}{1.5}{1.37}{ns}
\end{axis}
\begin{axis}[stD, pos={562}{99}{84}{88}, ymin=-0.027, ymax=0.062, ytick={-0.025,0,0.025,0.05}, yticklabels={-0.025,0.000,0.025,0.050}, ylabel={B7-H7}]
\vio{1}{mA}{-0.004 0\\0 0.3\\0.004 0.43\\0.01 0.3\\0.018 0.15\\0.026 0.08\\0.035 0\\}{0}{0.001}{0.005}{0.012}{0.027}
\vio{2}{mB}{-0.006 0\\0 0.25\\0.006 0.4\\0.015 0.3\\0.025 0.2\\0.035 0.1\\0.045 0.04\\0.055 0\\}{0}{0.002}{0.006}{0.024}{0.05}
\brk{1}{2}{1.5}{0.047}{ns}
\end{axis}

%%%%%%%%%%%%%%%% panel letters
\foreach \L/\yy in {A/939, B/696, C/456, D/213}
  \node[font=\fontsize{15}{16}\selectfont, anchor=center] at (11\pu,\yy\pu) {\L};

%%%%%%%%%%%%%%%% legend boxes
\fill[legA] (669\pu,858\pu) rectangle (740\pu,815\pu);
\node[font=\fontsize{6.2}{7}\selectfont] at (705\pu,844\pu) {Stage};
\draw[black!65, line width=0.6pt] (673\pu,836\pu) -- (737\pu,836\pu);
\foreach \t/\xx in {I/675, II/691, III/712, IV/729}
  \node[font=\fontsize{6.2}{7}\selectfont] at (\xx\pu,825\pu) {\t};

\fill[legB] (670\pu,620\pu) rectangle (742\pu,576\pu);
\node[font=\fontsize{6.2}{7}\selectfont] at (706\pu,606\pu) {T};
\draw[black!65, line width=0.6pt] (674\pu,597\pu) -- (738\pu,597\pu);
\foreach \t/\xx in {T1/682, T2/698, T3/715, T4/730}
  \node[font=\fontsize{6.2}{7}\selectfont] at (\xx\pu,585\pu) {\t};

\fill[legC] (669\pu,381\pu) rectangle (742\pu,333\pu);
\node[font=\fontsize{6.2}{7}\selectfont] at (706\pu,367\pu) {N};
\draw[black!65, line width=0.6pt] (673\pu,356\pu) -- (738\pu,356\pu);
\foreach \t/\xx in {N1/680, N2/697, N3/713, N4/729}
  \node[font=\fontsize{6.2}{7}\selectfont] at (\xx\pu,341\pu) {\t};

\fill[legD] (670\pu,133\pu) rectangle (742\pu,87\pu);
\node[font=\fontsize{6.2}{7}\selectfont] at (706\pu,120\pu) {M};
\draw[black!65, line width=0.6pt] (674\pu,112\pu) -- (738\pu,112\pu);
\foreach \t/\xx in {M0/685, M1/725}
  \node[font=\fontsize{6.2}{7}\selectfont] at (\xx\pu,101\pu) {\t};
\end{tikzpicture}
\end{document}
